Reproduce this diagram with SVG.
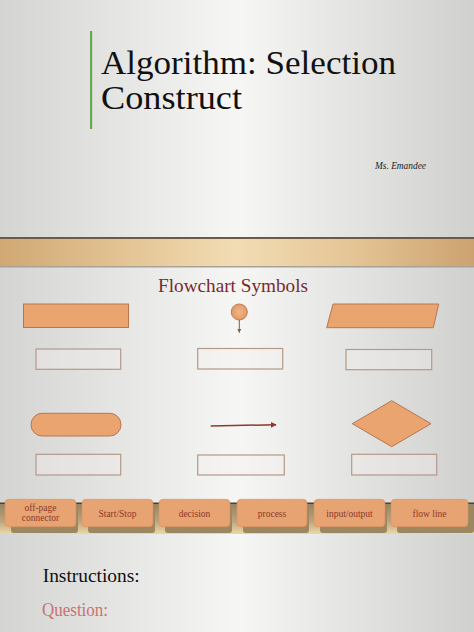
<svg xmlns="http://www.w3.org/2000/svg" width="474" height="632" viewBox="0 0 474 632">
<defs>
<linearGradient id="bg" x1="0" y1="0" x2="1" y2="0">
<stop offset="0" stop-color="#d4d4d2"/>
<stop offset="0.5" stop-color="#f6f6f4"/>
<stop offset="1" stop-color="#d0d0ce"/>
</linearGradient>
<linearGradient id="wood" x1="0" y1="0" x2="1" y2="0">
<stop offset="0" stop-color="#d0a874"/>
<stop offset="0.3" stop-color="#e6c898"/>
<stop offset="0.5" stop-color="#f2dcb4"/>
<stop offset="0.75" stop-color="#e4c494"/>
<stop offset="1" stop-color="#cca270"/>
</linearGradient>
<linearGradient id="band" x1="0" y1="0" x2="0" y2="1">
<stop offset="0" stop-color="#958060"/>
<stop offset="0.6" stop-color="#bda67e"/>
<stop offset="1" stop-color="#ecd8a6"/>
</linearGradient>
<radialGradient id="dot" cx="0.5" cy="0.5" r="0.5">
<stop offset="0" stop-color="#f0b888"/>
<stop offset="1" stop-color="#e29a64"/>
</radialGradient>
<marker id="ah" viewBox="0 0 10 10" refX="9" refY="5" markerWidth="4" markerHeight="4" orient="auto">
<path d="M0,0 L10,5 L0,10 z" fill="#8b3b2b"/>
</marker>
<marker id="ah2" viewBox="0 0 10 10" refX="9" refY="5" markerWidth="4" markerHeight="4" orient="auto">
<path d="M0,0 L10,5 L0,10 z" fill="#8a5a4a"/>
</marker>
</defs>
<style>
.sym{fill:#e9a470;stroke:#b87650;stroke-width:1}
.lbl{fill:#f4f2f0;fill-opacity:0.35;stroke:#b49a88;stroke-width:1.2}
.btn{fill:#e8a372;stroke:#d89060;stroke-width:0.6}
.sh{fill:#9c8760}
.bt{font-family:"Liberation Serif",serif;font-size:9.5px;fill:#8b3a2a;text-anchor:middle}
.ser{font-family:"Liberation Serif",serif}
</style>

<rect x="0" y="0" width="474" height="238" fill="url(#bg)"/>
<rect x="0" y="267" width="474" height="365" fill="url(#bg)"/>
<rect x="0" y="238" width="474" height="29" fill="url(#wood)"/>
<rect x="0" y="237" width="474" height="2" fill="#6b5a45"/>
<rect x="0" y="266" width="474" height="1.5" fill="#a8a298"/>

<g id="title">
<rect x="90" y="31" width="2.2" height="98" fill="#6aa84f"/>
<text class="ser" x="101" y="74" font-size="34" fill="#111" textLength="295" lengthAdjust="spacingAndGlyphs">Algorithm: Selection</text>
<text class="ser" x="101" y="109" font-size="34" fill="#111" textLength="141" lengthAdjust="spacingAndGlyphs">Construct</text>
<text class="ser" x="375" y="169" font-size="9.5" font-style="italic" fill="#222" textLength="51" lengthAdjust="spacingAndGlyphs">Ms. Emandee</text>
</g>

<text id="heading" class="ser" x="158" y="292" font-size="18" fill="#7a2c2c" textLength="150" lengthAdjust="spacingAndGlyphs">Flowchart Symbols</text>

<g id="process-symbol"><rect class="sym" x="23.5" y="304" width="105" height="23.5"/></g>
<g id="offpage-symbol"><circle cx="239.3" cy="312" r="8" fill="url(#dot)" stroke="#c27a52" stroke-width="1"/></g>
<g id="io-symbol"><polygon class="sym" points="333,304 438.7,304 433.3,327.7 326.7,327.7"/></g>
<g id="startstop-symbol"><rect class="sym" x="31" y="413.3" width="90" height="22.7" rx="11.3"/></g>
<g id="decision-symbol"><polygon class="sym" points="391.7,400.7 431,423.7 391.7,446.7 352.3,423.7"/></g>

<g id="connectors">
<line x1="239.3" y1="320" x2="239.3" y2="332.5" stroke="#8a5a4a" stroke-width="1" marker-end="url(#ah2)"/>
<line id="flowline-symbol" x1="210.7" y1="426" x2="276" y2="424.7" stroke="#8b3b2b" stroke-width="1.5" marker-end="url(#ah)"/>
</g>

<g id="box1"><rect class="lbl" x="36" y="349" width="84.7" height="20.3"/></g>
<g id="box2"><rect class="lbl" x="197.7" y="348.5" width="85" height="20.5"/></g>
<g id="box3"><rect class="lbl" x="346" y="349.5" width="85.7" height="20.2"/></g>
<g id="box4"><rect class="lbl" x="36" y="454.3" width="84.7" height="20.7"/></g>
<g id="box5"><rect class="lbl" x="197.7" y="455" width="86.6" height="20"/></g>
<g id="box6"><rect class="lbl" x="351.7" y="454.3" width="85" height="20.7"/></g>

<rect x="0" y="503" width="474" height="31" fill="url(#band)"/>
<rect x="0" y="502.5" width="474" height="1.5" fill="#4e4030"/>
<g id="btn-offpage">
<rect class="sh" x="11" y="505" width="67" height="28" rx="3"/>
<rect class="btn" x="5" y="499.3" width="71" height="27.4" rx="4"/>
<text class="bt" x="40.5" y="510.5">off-page</text>
<text class="bt" x="40.5" y="520.5">connector</text>
</g>
<g id="btn-startstop">
<rect class="sh" x="88" y="505" width="67" height="28" rx="3"/>
<rect class="btn" x="82" y="499.3" width="71" height="27.4" rx="4"/>
<text class="bt" x="117.5" y="516.5">Start/Stop</text>
</g>
<g id="btn-decision">
<rect class="sh" x="165" y="505" width="67" height="28" rx="3"/>
<rect class="btn" x="159" y="499.3" width="71" height="27.4" rx="4"/>
<text class="bt" x="194.5" y="516.5">decision</text>
</g>
<g id="btn-process">
<rect class="sh" x="243" y="505" width="66" height="28" rx="3"/>
<rect class="btn" x="237" y="499.3" width="70" height="27.4" rx="4"/>
<text class="bt" x="272" y="516.5">process</text>
</g>
<g id="btn-io">
<rect class="sh" x="320" y="505" width="67" height="28" rx="3"/>
<rect class="btn" x="314" y="499.3" width="71" height="27.4" rx="4"/>
<text class="bt" x="349.5" y="516.5">input/output</text>
</g>
<g id="btn-flowline">
<rect class="sh" x="397" y="505" width="77" height="28" rx="3"/>
<rect class="btn" x="391" y="499.3" width="77" height="27.4" rx="4"/>
<text class="bt" x="429.5" y="516.5">flow line</text>
</g>

<text id="instructions" class="ser" x="42.7" y="582" font-size="18" fill="#111" textLength="97" lengthAdjust="spacingAndGlyphs">Instructions:</text>
<text id="question" class="ser" x="42" y="616" font-size="18" fill="#c97272" textLength="66" lengthAdjust="spacingAndGlyphs">Question:</text>
</svg>
